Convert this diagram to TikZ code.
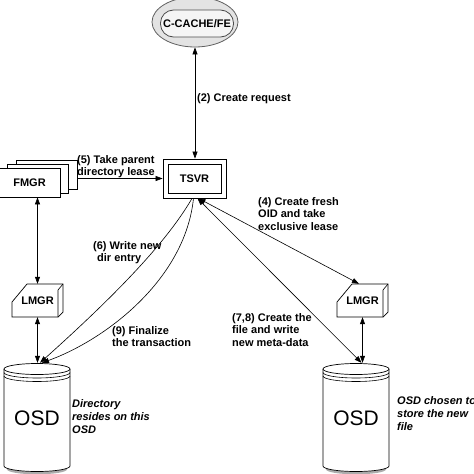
\documentclass[tikz,border=0pt]{standalone}
\usepackage{fontspec}
\setmainfont{Liberation Sans}
\usetikzlibrary{arrows.meta,shapes.geometric,calc}
\newcommand\mycyl[2]{%
  \pgfmathsetmacro\cylrx{(#2-#1)/2}%
  \pgfmathsetmacro\cylcx{(#2+#1)/2}%
  \draw[gray!65, line width=2.6pt] ({#1+4},468.5) arc[start angle=180,end angle=0,x radius={\cylrx-4},y radius=4.5];
  \filldraw[fill=white, line width=0.7pt] (#1,369) -- (#1,466) arc[start angle=180,end angle=0,x radius=\cylrx,y radius=5.5] -- (#2,369);
  \draw[line width=0.6pt] (#1,376) arc[start angle=180,end angle=0,x radius=\cylrx,y radius=5.5];
  \draw[line width=0.6pt] (#1,372.5) arc[start angle=180,end angle=0,x radius=\cylrx,y radius=5.5];
  \filldraw[fill=white, line width=0.7pt] (\cylcx,369) ellipse [x radius=\cylrx, y radius=5.5];
}
\newcommand\lmgrshape[2]{% center x, center y
  \filldraw[fill=white, line width=0.7pt] ({#1-25.5},{#2+16.5}) -- ({#1-25.5},{#2+1.5}) -- ({#1-10.5},{#2-16.5})
    -- ({#1+25.5},{#2-16.5}) -- ({#1+25.5},{#2+11.5}) -- ({#1+20.5},{#2+16.5}) -- cycle;
  \draw[line width=0.6pt] ({#1+20.5},{#2+16.5}) -- ({#1+20.5},{#2-10.5}) -- ({#1+25.5},{#2-16.5});
}
\begin{document}
\begin{tikzpicture}[x=1pt,y=-1pt,
  >={Triangle[length=7pt,width=5pt]},
  conn/.style={line width=0.6pt},
  lbl/.style={font=\fontsize{11}{12.5}\selectfont\bfseries, align=left, anchor=north west, inner sep=0pt},
  ilbl/.style={font=\fontsize{11}{13}\selectfont\bfseries\itshape, align=left, anchor=north west, inner sep=0pt},
  boxtxt/.style={font=\fontsize{11}{12}\selectfont\bfseries, inner sep=0pt},
  plainbox/.style={draw, fill=white, line width=0.7pt, minimum width=61pt, minimum height=29pt, inner sep=0pt},
  osdtxt/.style={font=\fontsize{21}{21}\selectfont, inner sep=0pt, minimum height=110pt}
]
\useasboundingbox (0,0) rectangle (474,474);

% C-CACHE/FE
\node[ellipse, draw=gray!75!black, fill=gray!22, line width=0.8pt, minimum width=86pt, minimum height=50pt, inner sep=0pt] (ccache) at (195,22) {};
\node[draw=black!70, fill=gray!8, line width=0.8pt, rounded corners=13pt, minimum width=73pt, minimum height=27pt, inner sep=0pt, boxtxt] (ccachein) at (197,23.5) {C-CACHE/FE};

% TSVR
\node[draw, fill=white, line width=0.8pt, minimum width=63pt, minimum height=39pt, inner sep=0pt] (tsvr) at (194.5,178.5) {};
\node[draw, line width=0.8pt, minimum width=53pt, minimum height=29pt, inner sep=0pt, boxtxt] (tsvrin) at (194.5,178.5) {TSVR};

% FMGR stack
\node[plainbox] (fmgrC) at (46.5,174.5) {};
\node[plainbox] (fmgrB) at (38,178.5) {};
\node[plainbox, boxtxt] (fmgrA) at (29.5,182.5) {FMGR};

% LMGRs
\lmgrshape{37.5}{300.5}
\node[boxtxt, minimum width=51pt, minimum height=33pt] (lmgrL) at (37.5,300.5) {LMGR};
\lmgrshape{362.5}{300.5}
\node[boxtxt, minimum width=51pt, minimum height=33pt] (lmgrR) at (362.5,300.5) {LMGR};

% OSDs
\mycyl{4}{70}
\node[osdtxt, minimum width=66pt] (osdL) at (37,418) {OSD};
\mycyl{323}{389}
\node[osdtxt, minimum width=66pt] (osdR) at (356,418) {OSD};

% labels
\node[lbl] (l2) at (197,93) {(2) Create request};
\node[lbl] (l5) at (77,155) {(5) Take parent\\directory lease};
\node[lbl] (l4) at (258,197) {(4) Create fresh\\OID and take\\exclusive lease};
\node[lbl] (l6) at (93,241) {(6) Write new\\\hspace{4pt}dir entry};
\node[lbl] (l9) at (112,326) {(9) Finalize\\the transaction};
\node[lbl] (l78) at (232,313) {(7,8) Create the\\file and write\\new meta-data};
\node[ilbl] (ld) at (72,399) {Directory\\resides on this\\OSD};
\node[ilbl] (lc) at (397,396) {OSD chosen to\\store the new\\file};

% connectors
\draw[conn,<->] (ccache.south) -- (ccache.south |- tsvr.north);
\draw[conn,->] (fmgrC.east |- tsvr.west) -- (tsvr.west);
\draw[conn,<->] (lmgrL.north |- fmgrA.south) -- (lmgrL.north);
\draw[conn,<->] (lmgrL.south) -- (lmgrL.south |- osdL.north);
\draw[conn,<->] (lmgrR.south) -- (lmgrR.south |- osdR.north);
\draw[conn,<->] ([xshift=4pt]tsvr.south) -- ([xshift=-3.5pt]lmgrR.north);
\draw[conn,<->] ([xshift=3pt]tsvr.south) -- ($(lmgrR.south |- osdR.north)+(-1,0)$);
\draw[conn,->] ([xshift=-2.5pt]tsvr.south) .. controls (165,245) and (110,300) .. ($(osdL.north)+(3,0)$);
\draw[conn,->] ([xshift=-1pt]tsvr.south) .. controls (185,280) and (105,340) .. ($(osdL.north)+(5,0)$);
\end{tikzpicture}
\end{document}
